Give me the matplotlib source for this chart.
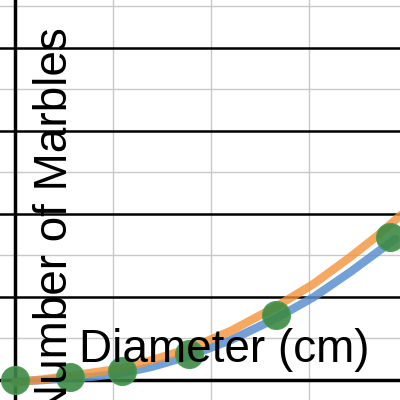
import matplotlib.pyplot as plt

# measured points
diameter = [0, 0.56, 1.09, 1.78, 2.66, 3.83]
marbles = [0, 4, 11, 31, 78, 172]

# two trend curves
orange_d = [0, 0.3, 0.56, 0.8, 1.09, 1.4, 1.78, 2.2, 2.66, 3.05, 3.42, 3.7, 3.95]
orange_m = [-3, 1, 5, 9, 14, 24, 38, 59, 88, 116, 148, 174, 200]
blue_d = [0, 0.3, 0.56, 0.8, 1.09, 1.4, 1.78, 2.2, 2.66, 3.05, 3.42, 3.65, 3.88]
blue_m = [-2, 0, 2, 4, 8, 16, 29, 48, 74, 100, 130, 150, 170]

plt.rcParams['font.family'] = ['Liberation Sans', 'DejaVu Sans']

fig = plt.figure(figsize=(4, 4), dpi=100)
ax = fig.add_axes([0, 0, 1, 1])
ax.set_xlim(-0.153, 3.929)
ax.set_ylim(-24.1, 457.8)
ax.axis('off')

for x in [1, 2, 3]:
    ax.axvline(x, color='#c8c8c8', lw=1, zorder=0)
for y in [50, 150, 250, 350, 450]:
    ax.axhline(y, color='#c8c8c8', lw=1, zorder=0)
for y in [100, 200, 300, 400]:
    ax.axhline(y, color='black', lw=1.8, zorder=1)
ax.axhline(0, color='black', lw=2.5, zorder=1)
ax.axvline(0, color='black', lw=2.5, zorder=1)

ax.plot(blue_d, blue_m, color='#5b8fd0', lw=6, alpha=0.85, solid_capstyle='round', zorder=2)
ax.plot(orange_d, orange_m, color='#f4923a', lw=6, alpha=0.8, solid_capstyle='round', zorder=3)
ax.plot(diameter, marbles, 'o', color='#3d8a45', ms=20, alpha=0.9,
        markeredgecolor='#4a9a50', zorder=4)

ax.text(0.41, 190, 'Number of Marbles', rotation=90, fontsize=33,
        ha='center', va='center', zorder=5)
ax.text(2.14, 36, 'Diameter (cm)', fontsize=33, ha='center', va='center', zorder=5)

fig.savefig('out.png', dpi=100)
